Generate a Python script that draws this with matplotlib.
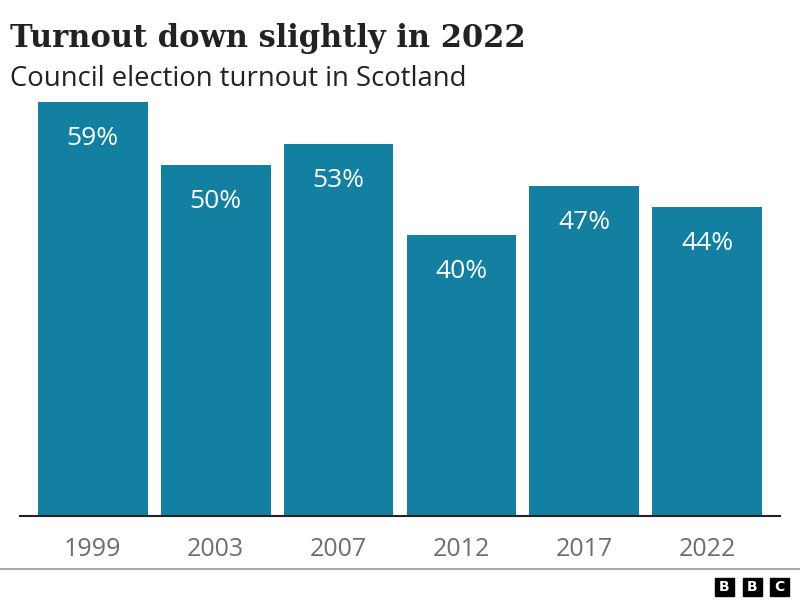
import matplotlib.pyplot as plt
from matplotlib.patches import Rectangle
from matplotlib.lines import Line2D

years = ["1999", "2003", "2007", "2012", "2017", "2022"]
turnout = [59, 50, 53, 40, 47, 44]

BAR_COLOUR = "#1380a1"
TEXT_DARK = "#222222"
TEXT_GREY = "#6e6e6e"

fig = plt.figure(figsize=(8, 6), dpi=100)
ax = fig.add_axes([20 / 800, 1 - 516 / 600, 760 / 800, (516 - 102) / 600])

positions = list(range(len(years)))
ax.bar(positions, turnout, width=0.894, color=BAR_COLOUR)

# labels blancs dans les barres
for pos, value in zip(positions, turnout):
    ax.text(pos, value - 5.2, f"{value}%", ha="center", va="center",
            color="white", fontsize=19, family="Open Sans")

ax.set_xlim(-0.593, len(years) - 1 + 0.593)
ax.set_ylim(0, 59)

for side in ["top", "right", "left"]:
    ax.spines[side].set_visible(False)
ax.spines["bottom"].set_color("#222222")
ax.spines["bottom"].set_linewidth(1.5)
ax.set_yticks([])
ax.set_xticks(positions)
ax.set_xticklabels(years, fontsize=18, color=TEXT_GREY, family="Open Sans")
ax.tick_params(axis="x", length=0, pad=15)

fig.text(10 / 800, 1 - 39 / 600, "Turnout down slightly in 2022", fontsize=22,
         fontweight="bold", family="DejaVu Serif", color=TEXT_DARK, va="center")
fig.text(10 / 800, 1 - 79 / 600, "Council election turnout in Scotland", fontsize=19.8,
         family="Open Sans", color=TEXT_DARK, va="center")

# ligne de pied et logo
fig.add_artist(Line2D([0, 1], [1 - 569 / 600] * 2, color="#999999", linewidth=1.2))
for i, letter in enumerate("BBC"):
    x0 = (715 + i * 27.5) / 800
    fig.add_artist(Rectangle((x0, 1 - 596 / 600), 19 / 800, 18 / 600,
                             color="black", transform=fig.transFigure))
    fig.text(x0 + 9.5 / 800, 1 - 587 / 600, letter, color="white", fontsize=10,
             fontweight="bold", ha="center", va="center", family="DejaVu Sans")

fig.savefig("out.png", dpi=100)
